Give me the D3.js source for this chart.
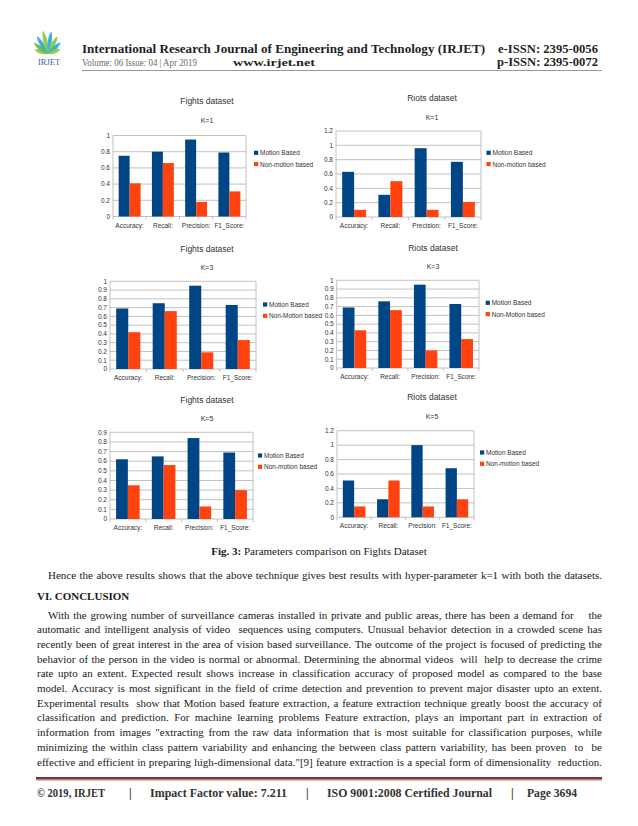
<!DOCTYPE html>
<html>
<head>
<meta charset="utf-8">
<script src="https://cdn.jsdelivr.net/npm/d3@7"></script>
<style>
  body { margin: 0; background: #fff; }
  svg { display: block; }
</style>
</head>
<body>
<svg id="page" width="638" height="826"></svg>
<script>
// ---------- data ----------
const categories = ['Accuracy:', 'Recall:', 'Precision:', 'F1_Score:'];

const fightsK1Motion = [0.75, 0.80, 0.95, 0.79];
const fightsK1Non    = [0.41, 0.66, 0.18, 0.31];
const riotsK1Motion  = [0.63, 0.31, 0.96, 0.77];
const riotsK1Non     = [0.10, 0.50, 0.10, 0.21];
const fightsK3Motion = [0.69, 0.75, 0.95, 0.73];
const fightsK3Non    = [0.42, 0.66, 0.19, 0.33];
const riotsK3Motion  = [0.69, 0.76, 0.95, 0.73];
const riotsK3Non     = [0.43, 0.66, 0.20, 0.33];
const fightsK5Motion = [0.62, 0.65, 0.84, 0.69];
const fightsK5Non    = [0.35, 0.56, 0.13, 0.30];
const riotsK5Motion  = [0.51, 0.25, 1.00, 0.68];
const riotsK5Non     = [0.15, 0.51, 0.15, 0.25];

const legendLower = ['Motion Based', 'Non-motion based'];
const legendUpper = ['Motion Based', 'Non-Motion based'];

const paragraphLines = [
  'With the growing number of surveillance cameras installed in private and public areas, there has been a demand for    the',
  'automatic and intelligent analysis of video  sequences using computers. Unusual behavior detection in a crowded scene has',
  'recently been of great interest in the area of vision based surveillance. The outcome of the project is focused of predicting the',
  'behavior of the person in the video is normal or abnormal. Determining the abnormal videos  will  help to decrease the crime',
  'rate upto an extent. Expected result shows increase in classification accuracy of proposed model as compared to the base',
  'model. Accuracy is most significant in the field of crime detection and prevention to prevent major disaster upto an extent.',
  'Experimental results  show that Motion based feature extraction, a feature extraction technique greatly boost the accuracy of',
  'classification and prediction. For machine learning problems Feature extraction, plays an important part in extraction of',
  'information from images "extracting from the raw data information that is most suitable for classification purposes, while',
  'minimizing the within class pattern variability and enhancing the between class pattern variability, has been proven  to  be',
  'effective and efficient in preparing high-dimensional data."[9] feature extraction is a special form of dimensionality  reduction.'
];

// ---------- layout ----------
const charts = [
  { title: 'Fights dataset', k: 'K=1', motion: fightsK1Motion, non: fightsK1Non, legend: legendLower,
    yMax: 1, yStep: 0.2, left: 113, right: 246, top: 135.5, bottom: 216.5, cx: 207, titleY: 103.5, kY: 123,
    legX: 254, legY: 153 },
  { title: 'Riots dataset', k: 'K=1', motion: riotsK1Motion, non: riotsK1Non, legend: legendLower,
    yMax: 1.2, yStep: 0.2, left: 336, right: 481, top: 131, bottom: 217, cx: 432, titleY: 101, kY: 120,
    legX: 486.5, legY: 153 },
  { title: 'Fights dataset', k: 'K=3', motion: fightsK3Motion, non: fightsK3Non, legend: legendUpper,
    yMax: 1, yStep: 0.1, left: 110, right: 256, top: 281.3, bottom: 369, cx: 207, titleY: 252, kY: 270,
    legX: 263, legY: 304.7 },
  { title: 'Riots dataset', k: 'K=3', motion: riotsK3Motion, non: riotsK3Non, legend: legendUpper,
    yMax: 1, yStep: 0.1, left: 336.7, right: 479, top: 280.3, bottom: 368, cx: 433, titleY: 251, kY: 269,
    legX: 485.7, legY: 303 },
  { title: 'Fights dataset', k: 'K=5', motion: fightsK5Motion, non: fightsK5Non, legend: legendLower,
    yMax: 0.9, yStep: 0.1, left: 110, right: 253, top: 432.3, bottom: 519, cx: 207, titleY: 403, kY: 421,
    legX: 258, legY: 455.7 },
  { title: 'Riots dataset', k: 'K=5', motion: riotsK5Motion, non: riotsK5Non, legend: legendLower,
    yMax: 1.2, yStep: 0.2, left: 337, right: 474, top: 430.7, bottom: 517.3, cx: 432, titleY: 400, kY: 419,
    legX: 480, legY: 452.7 }
];

const blue = '#004586';
const orange = '#ff420e';
const grid = '#b3b3b3';
const chartFont = '"Liberation Sans", Arial, sans-serif';
const serif = '"Liberation Serif", "DejaVu Serif", serif';

const svg = d3.select('#page');

// ---------- header ----------
const logo = svg.append('g').attr('transform', 'translate(48,54)');
const leaves = [
  { a: -72, l: 14, c: '#8cc63f' }, { a: -52, l: 18, c: '#6db33f' }, { a: -32, l: 21, c: '#27a9e1' },
  { a: -12, l: 24, c: '#8cc63f' }, { a: 8, l: 23, c: '#27a9e1' }, { a: 28, l: 20, c: '#8cc63f' },
  { a: 48, l: 17, c: '#27a9e1' }, { a: 68, l: 13, c: '#8cc63f' }
];
leaves.forEach(d => {
  logo.append('path')
    .attr('d', `M0,0 C${-3.2},${-d.l * 0.45} ${-2.2},${-d.l * 0.8} 0,${-d.l} C${2.2},${-d.l * 0.8} ${3.2},${-d.l * 0.45} 0,0Z`)
    .attr('transform', `rotate(${d.a})`)
    .attr('fill', d.c)
    .attr('opacity', 0.9);
});
svg.append('text').attr('x', 49).attr('y', 65).attr('text-anchor', 'middle')
  .style('font-family', serif).style('font-size', '8.5px').style('fill', '#2b6cb5')
  .text('IRJET');

function fitText(x, y, txt, width, size, weight, color, anchor) {
  return svg.append('text').attr('x', x).attr('y', y)
    .attr('text-anchor', anchor || 'start')
    .attr('textLength', width).attr('lengthAdjust', 'spacingAndGlyphs')
    .style('font-family', serif).style('font-size', size + 'px')
    .style('font-weight', weight).style('fill', color)
    .text(txt);
}

fitText(82, 52.5, 'International Research Journal of Engineering and Technology (IRJET)', 403, 13.5, 'bold', '#1f1f1f');
fitText(498, 52.5, 'e-ISSN: 2395-0056', 100, 11.5, 'bold', '#1f1f1f');
fitText(82, 65.5, 'Volume: 06 Issue: 04 | Apr 2019', 115, 11, 'normal', '#6b6b6b');
fitText(233, 65.5, 'www.irjet.net', 82, 11, 'bold', '#1f1f1f');
fitText(497, 65.5, 'p-ISSN: 2395-0072', 101, 11.5, 'bold', '#1f1f1f');
svg.append('line').attr('x1', 82).attr('x2', 602).attr('y1', 70.5).attr('y2', 70.5)
  .attr('stroke', '#9a9a9a').attr('stroke-width', 1);

// ---------- charts ----------
charts.forEach(c => {
  const g = svg.append('g');
  const x = d3.scaleBand().domain(categories).range([c.left, c.right]);
  const y = d3.scaleLinear().domain([0, c.yMax]).range([c.bottom, c.top]);
  const barW = x.bandwidth() * 0.33;
  const nTicks = Math.round(c.yMax / c.yStep);
  const ticks = d3.range(0, nTicks + 1).map(i => +(i * c.yStep).toFixed(1));

  // grid lines
  g.selectAll('.grid').data(ticks).enter().append('line')
    .attr('x1', c.left).attr('x2', c.right)
    .attr('y1', d => y(d)).attr('y2', d => y(d))
    .attr('stroke', grid).attr('stroke-width', 0.8);
  // plot border sides
  g.append('line').attr('x1', c.left).attr('x2', c.left).attr('y1', c.top).attr('y2', c.bottom)
    .attr('stroke', grid).attr('stroke-width', 0.8);
  g.append('line').attr('x1', c.right).attr('x2', c.right).attr('y1', c.top).attr('y2', c.bottom)
    .attr('stroke', grid).attr('stroke-width', 0.8);
  // category ticks
  const bounds = categories.map(d => x(d)).concat([c.right]);
  g.selectAll('.ct').data(bounds).enter().append('line')
    .attr('x1', d => d).attr('x2', d => d).attr('y1', c.bottom).attr('y2', c.bottom + 3)
    .attr('stroke', grid).attr('stroke-width', 0.8);

  // y labels
  g.selectAll('.yl').data(ticks).enter().append('text')
    .attr('x', c.left - 3).attr('y', d => y(d)).attr('dy', '0.35em')
    .attr('text-anchor', 'end')
    .style('font-family', chartFont).style('font-size', '6.5px').style('fill', '#333')
    .text(d => String(d));
  // x labels
  g.selectAll('.xl').data(categories).enter().append('text')
    .attr('x', d => x(d) + x.bandwidth() / 2).attr('y', c.bottom + 11)
    .attr('text-anchor', 'middle')
    .style('font-family', chartFont).style('font-size', '6.5px').style('fill', '#333')
    .text(d => d);

  // bars
  g.selectAll('.bm').data(c.motion).enter().append('rect')
    .attr('x', (d, i) => x(categories[i]) + x.bandwidth() / 2 - barW)
    .attr('y', d => y(d)).attr('width', barW).attr('height', d => c.bottom - y(d))
    .attr('fill', blue);
  g.selectAll('.bn').data(c.non).enter().append('rect')
    .attr('x', (d, i) => x(categories[i]) + x.bandwidth() / 2)
    .attr('y', d => y(d)).attr('width', barW).attr('height', d => c.bottom - y(d))
    .attr('fill', orange);

  // titles
  g.append('text').attr('x', c.cx).attr('y', c.titleY).attr('text-anchor', 'middle')
    .style('font-family', chartFont).style('font-size', '8.5px').style('fill', '#333')
    .text(c.title);
  g.append('text').attr('x', c.cx).attr('y', c.kY).attr('text-anchor', 'middle')
    .style('font-family', chartFont).style('font-size', '7px').style('fill', '#333')
    .text(c.k);

  // legend
  [blue, orange].forEach((col, i) => {
    const ly = c.legY + i * 11.3;
    g.append('rect').attr('x', c.legX).attr('y', ly - 2.3).attr('width', 4.2).attr('height', 4.2)
      .attr('fill', col);
    g.append('text').attr('x', c.legX + 6).attr('y', ly).attr('dy', '0.35em')
      .style('font-family', chartFont).style('font-size', '6.5px').style('fill', '#333')
      .text(c.legend[i]);
  });
});

// ---------- body text ----------
const measurer = svg.append('text').style('font-family', serif).style('font-size', '11px')
  .attr('visibility', 'hidden');
function wordWidth(w, weight) {
  measurer.style('font-weight', weight || 'normal').text(w);
  return w ? measurer.node().getComputedTextLength() : 0;
}
function justifyLine(txt, x0, x1, yb, weight) {
  const words = txt.split(' ');
  const widths = words.map(w => wordWidth(w, weight));
  const total = d3.sum(widths);
  const gap = words.length > 1 ? (x1 - x0 - total) / (words.length - 1) : 0;
  let cur = x0;
  const g = svg.append('g');
  words.forEach((w, i) => {
    if (w) {
      g.append('text').attr('x', cur).attr('y', yb)
        .style('font-family', serif).style('font-size', '11px')
        .style('font-weight', weight || 'normal').style('fill', '#1a1a1a')
        .text(w);
    }
    cur += widths[i] + gap;
  });
}

// caption
const cap = svg.append('text').attr('x', 319).attr('y', 554.5).attr('text-anchor', 'middle')
  .style('font-family', serif).style('font-size', '11px').style('fill', '#1a1a1a');
cap.append('tspan').style('font-weight', 'bold').text('Fig. 3:');
cap.append('tspan').text(' Parameters comparison on Fights Dataset');

justifyLine('Hence the above results shows that the above technique gives best results with hyper-parameter k=1 with both the datasets.', 48, 602, 578.5);

svg.append('text').attr('x', 37).attr('y', 599.5)
  .style('font-family', serif).style('font-size', '11px').style('font-weight', 'bold').style('fill', '#1a1a1a')
  .text('VI.  CONCLUSION');

paragraphLines.forEach((line, i) => {
  justifyLine(line, i === 0 ? 48 : 37, 602, 618.5 + i * 14.7);
});

// ---------- footer ----------
svg.append('rect').attr('x', 36).attr('y', 777).attr('width', 566).attr('height', 2.6).attr('fill', '#7d3434');
svg.append('line').attr('x1', 36).attr('x2', 602).attr('y1', 780.5).attr('y2', 780.5)
  .attr('stroke', '#b0a0a0').attr('stroke-width', 0.6);
const footerItems = [
  { t: '\u00a9 2019, IRJET', x: 37, w: 68 },
  { t: '|', x: 129, w: 0 },
  { t: 'Impact Factor value: 7.211', x: 150, w: 137 },
  { t: '|', x: 306, w: 0 },
  { t: 'ISO 9001:2008 Certified Journal', x: 327, w: 165 },
  { t: '|', x: 511, w: 0 },
  { t: 'Page 3694', x: 527, w: 50 }
];
footerItems.forEach(d => {
  const t = svg.append('text').attr('x', d.x).attr('y', 797)
    .style('font-family', serif).style('font-size', '12px').style('font-weight', 'bold')
    .style('fill', '#333').text(d.t);
  if (d.w) t.attr('textLength', d.w).attr('lengthAdjust', 'spacingAndGlyphs');
});
</script>
</body>
</html>
